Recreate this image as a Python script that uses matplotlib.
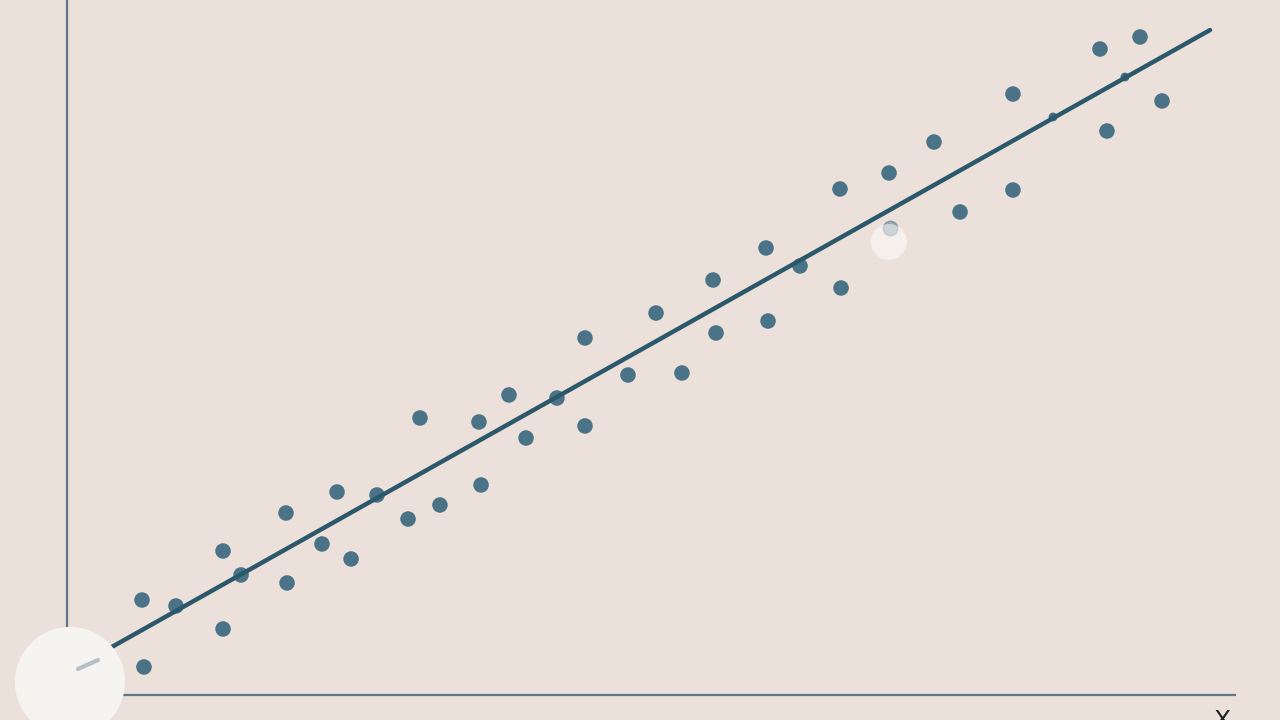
import numpy as np
import matplotlib.pyplot as plt
from matplotlib.patches import Ellipse

# Точки рассеяния (x, y в условных единицах 0..100)
x_pts = [6.42, 6.59, 9.33, 13.36, 13.36, 14.90, 18.75, 18.84, 21.83, 23.12,
         24.32, 26.54, 29.20, 30.22, 31.93, 35.27, 35.45, 37.84, 39.30, 41.95,
         44.35, 44.35, 48.03, 50.43, 52.65, 55.31, 55.57, 59.85, 60.02, 62.76,
         66.18, 66.27, 70.38, 74.23, 76.46, 80.99, 80.99, 88.44, 89.04,
         91.87, 93.75]
y_pts = [13.67, 4.03, 12.81, 20.72, 9.50, 17.27, 26.19, 16.12, 21.73, 29.21,
         19.57, 28.78, 25.32, 39.86, 27.34, 39.28, 30.22, 43.17, 36.98, 42.73,
         51.37, 38.71, 46.04, 54.96, 46.33, 59.71, 52.09, 64.32, 53.81, 61.73,
         72.81, 58.56, 75.11, 79.57, 69.50, 86.47, 72.66, 92.95, 81.15,
         94.68, 85.47]

# Точки, почти скрытые линией
hidden_x = [84.42, 90.58]
hidden_y = [83.17, 88.92]

# Бледная точка под бликом
faint_x = [70.46]
faint_y = [67.19]

# Линия тренда (концы)
fit_x = [3.68, 97.86]
fit_y = [6.76, 95.68]

bg = '#ebe1da'
W, H = 1280, 720

fig = plt.figure(figsize=(12.8, 7.2), dpi=100)
fig.patch.set_facecolor(bg)
ax = fig.add_axes([67 / W, 25 / H, 1168 / W, 695 / H])
ax.set_facecolor(bg)
ax.set_xlim(0, 100)
ax.set_ylim(0, 100)

for s in ['top', 'right']:
    ax.spines[s].set_visible(False)
for s in ['left', 'bottom']:
    ax.spines[s].set_color('#5f7787')
    ax.spines[s].set_linewidth(1.6)
ax.set_xticks([])
ax.set_yticks([])

ax.scatter(faint_x, faint_y, s=110, color='#4a7388', alpha=0.5, zorder=2)
ax.scatter(x_pts, y_pts, s=125, color='#4a7388', edgecolors='none', zorder=3)
ax.scatter(hidden_x, hidden_y, s=40, color='#3f6a7e', edgecolors='none', zorder=3)
ax.plot(fit_x, fit_y, color='#2c586c', linewidth=3.2, solid_capstyle='round', zorder=4)

# блик на точке
fig.add_artist(Ellipse((889 / W, 1 - 242 / H), 36 / W, 36 / H,
                       color='white', alpha=0.5, lw=0, zorder=5))

# белый круг в левом нижнем углу
fig.add_artist(Ellipse((70 / W, 1 - 682 / H), 110 / W, 110 / H,
                       color='#f6f4f1', lw=0, zorder=6))
fig.add_artist(plt.Line2D([78 / W, 98 / W], [1 - 669 / H, 1 - 660 / H],
                          color='#b4bfc6', linewidth=3, solid_capstyle='round', zorder=7))

fig.text(1222 / W, 1 - 709 / H, 'X', ha='center', va='top',
         fontsize=18, color='#222222')

fig.savefig('out.png', dpi=100, facecolor=bg)
